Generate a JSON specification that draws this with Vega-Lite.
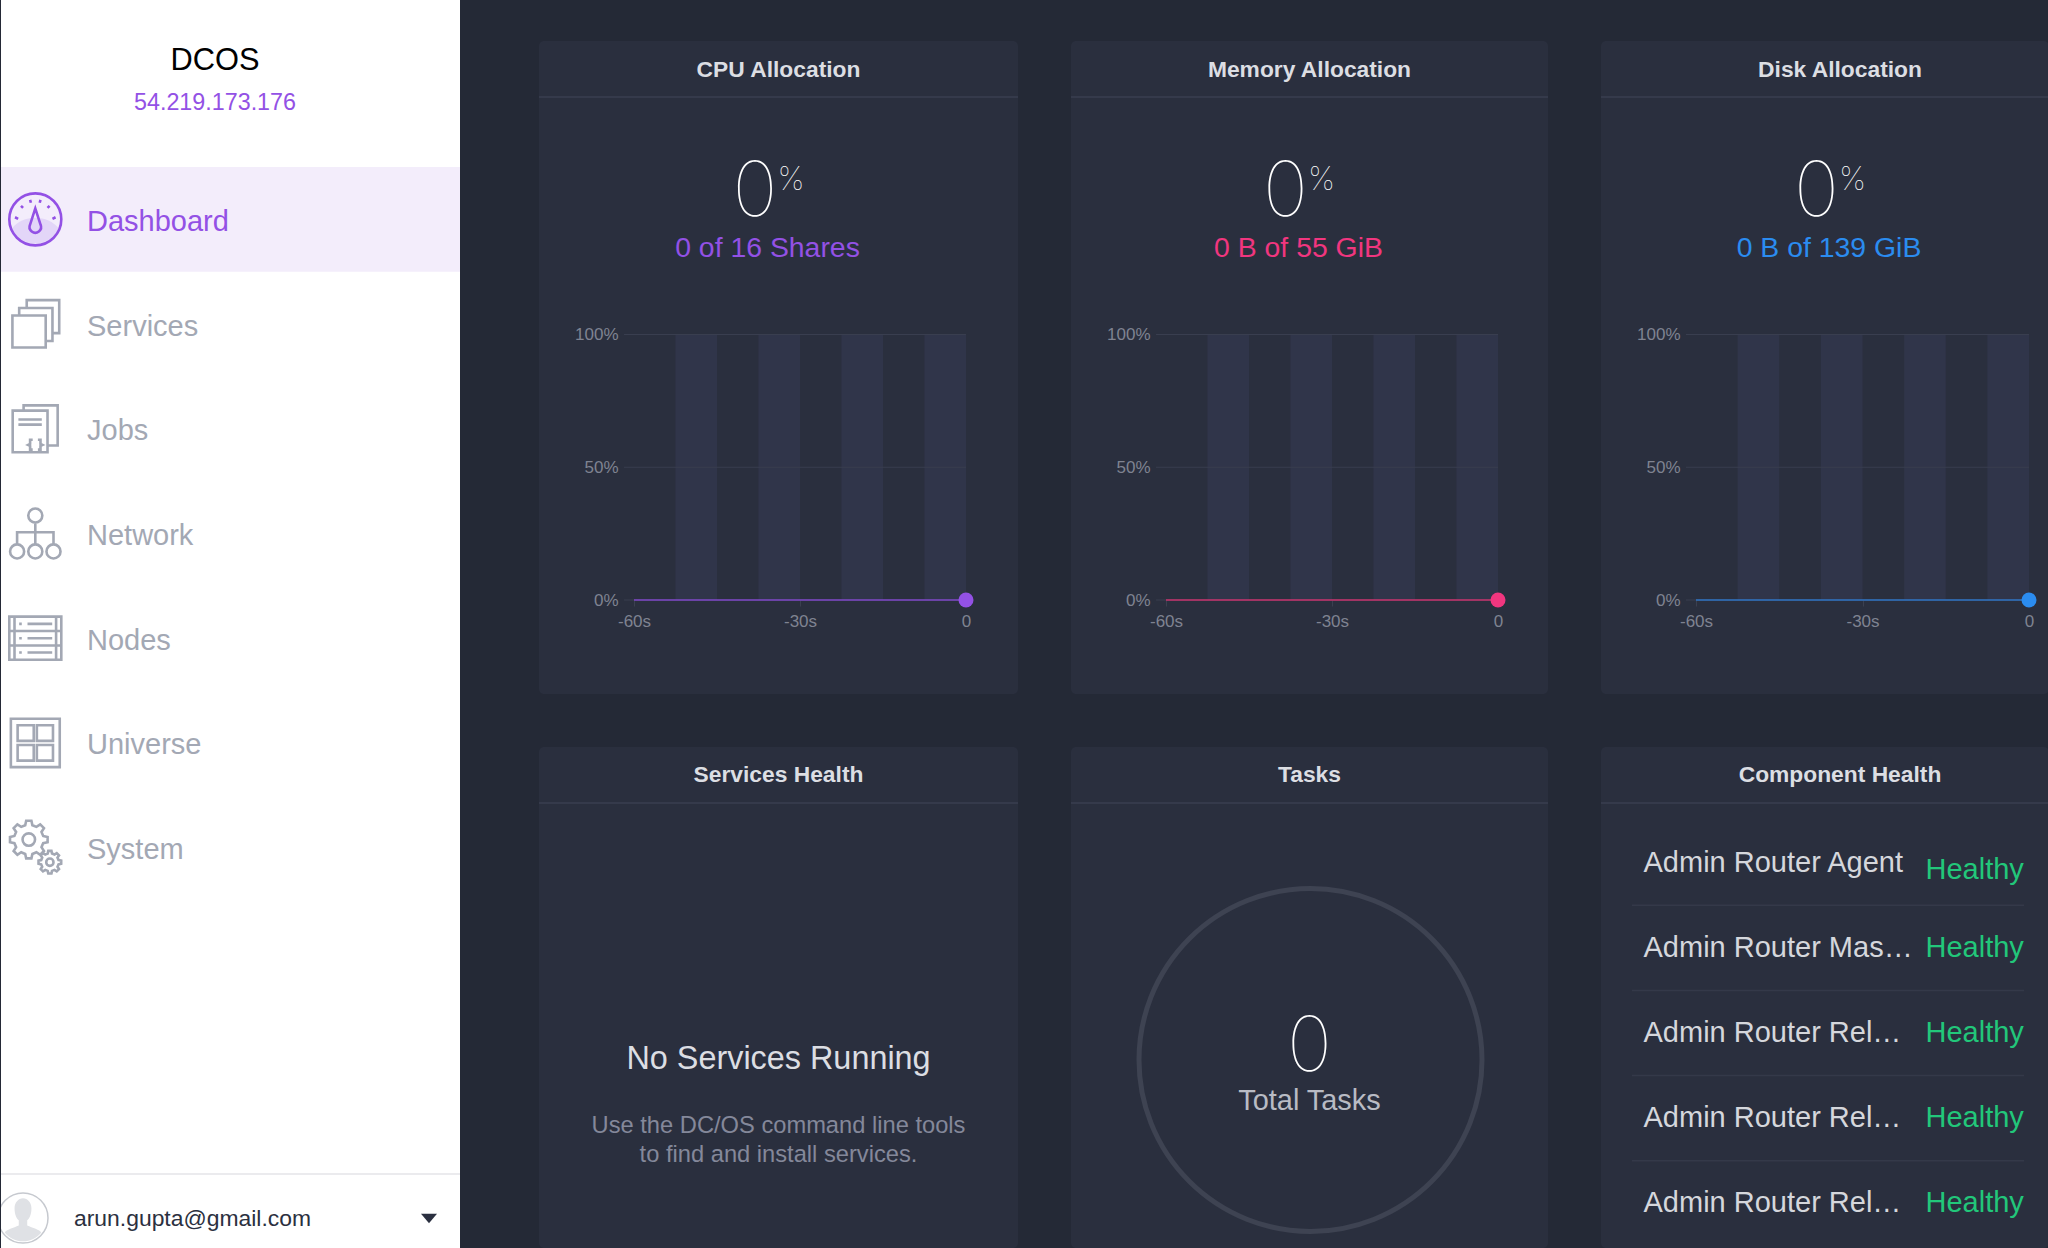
{
  "$schema": "https://vega.github.io/schema/vega-lite/v6.json",
  "background": "#242936",
  "padding": 0,
  "config": {"font": "Liberation Sans", "view": {"stroke": null}},
  "datasets": {
    "menu": [
      {"item": "Dashboard"}, {"item": "Services"}, {"item": "Jobs"}, {"item": "Network"},
      {"item": "Nodes"}, {"item": "Universe"}, {"item": "System"}
    ],
    "brand": [
      {"role": "name", "text": "DCOS"},
      {"role": "address", "text": "54.219.173.176"}
    ],
    "account": [{"role": "account", "text": "arun.gupta@gmail.com"}, {"role": "rule", "text": ""}],
    "usage": [
      {"metric": "cpu", "t": -60, "pct": 0}, {"metric": "cpu", "t": -45, "pct": 0}, {"metric": "cpu", "t": -30, "pct": 0}, {"metric": "cpu", "t": -15, "pct": 0}, {"metric": "cpu", "t": 0, "pct": 0},
      {"metric": "memory", "t": -60, "pct": 0}, {"metric": "memory", "t": -45, "pct": 0}, {"metric": "memory", "t": -30, "pct": 0}, {"metric": "memory", "t": -15, "pct": 0}, {"metric": "memory", "t": 0, "pct": 0},
      {"metric": "disk", "t": -60, "pct": 0}, {"metric": "disk", "t": -45, "pct": 0}, {"metric": "disk", "t": -30, "pct": 0}, {"metric": "disk", "t": -15, "pct": 0}, {"metric": "disk", "t": 0, "pct": 0}
    ],
    "stripes": [
      {"start": -52.5, "end": -45}, {"start": -37.5, "end": -30}, {"start": -22.5, "end": -15}, {"start": -7.5, "end": 0}
    ],
    "gridlines": [{"pct": 100}, {"pct": 50}, {"pct": 0}],
    "cards": [
      {"card": "cpu", "role": "header", "text": "CPU Allocation"},
      {"card": "cpu", "role": "rule", "text": ""},
      {"card": "cpu", "role": "value", "text": "0"},
      {"card": "cpu", "role": "percent", "text": "%"},
      {"card": "cpu", "role": "detail", "text": "0 of 16 Shares"},
      {"card": "memory", "role": "header", "text": "Memory Allocation"},
      {"card": "memory", "role": "rule", "text": ""},
      {"card": "memory", "role": "value", "text": "0"},
      {"card": "memory", "role": "percent", "text": "%"},
      {"card": "memory", "role": "detail", "text": "0 B of 55 GiB"},
      {"card": "disk", "role": "header", "text": "Disk Allocation"},
      {"card": "disk", "role": "rule", "text": ""},
      {"card": "disk", "role": "value", "text": "0"},
      {"card": "disk", "role": "percent", "text": "%"},
      {"card": "disk", "role": "detail", "text": "0 B of 139 GiB"},
      {"card": "services", "role": "header", "text": "Services Health"},
      {"card": "services", "role": "rule", "text": ""},
      {"card": "services", "role": "headline", "text": "No Services Running"},
      {"card": "services", "role": "line1", "text": "Use the DC/OS command line tools"},
      {"card": "services", "role": "line2", "text": "to find and install services."},
      {"card": "tasks", "role": "header", "text": "Tasks"},
      {"card": "tasks", "role": "rule", "text": ""},
      {"card": "tasks", "role": "ring", "text": ""},
      {"card": "tasks", "role": "value", "text": "0"},
      {"card": "tasks", "role": "label", "text": "Total Tasks"},
      {"card": "components", "role": "header", "text": "Component Health"},
      {"card": "components", "role": "rule", "text": ""}
    ],
    "components": [
      {"id": "agent", "name": "Admin Router Agent", "status": "Healthy"},
      {"id": "master", "name": "Admin Router Mas…", "status": "Healthy"},
      {"id": "reloader", "name": "Admin Router Rel…", "status": "Healthy"},
      {"id": "reloader-timer", "name": "Admin Router Rel…", "status": "Healthy"},
      {"id": "relay", "name": "Admin Router Rel…", "status": "Healthy"}
    ]
  },
  "bounds": "flush",
  "spacing": 79,
  "hconcat": [
    {
      "width": 459,
      "height": 1248,
      "view": {"fill": "#ffffff"},
      "layer": [
        {
          "data": {"name": "menu"},
          "transform": [{"filter": "datum.item === 'Dashboard'"}],
          "mark": {"type": "rect", "color": "#f3edfb"},
          "encoding": {
            "y": {"field": "item", "type": "nominal", "sort": null, "axis": null, "scale": {"type": "band", "paddingInner": 0, "paddingOuter": 0, "domain": ["Dashboard", "Services", "Jobs", "Network", "Nodes", "Universe", "System"], "range": [167, 900]}}
          }
        },
        {
          "data": {"name": "menu"},
          "encoding": {
            "x": {"datum": "icon", "type": "nominal", "axis": null, "scale": {"type": "point", "padding": 0, "domain": ["icon", "label"], "range": [34.3, 86]}},
            "y": {"field": "item", "type": "nominal", "sort": null, "axis": null, "scale": {"type": "band", "paddingInner": 0, "paddingOuter": 0, "domain": ["Dashboard", "Services", "Jobs", "Network", "Nodes", "Universe", "System"], "range": [167, 900]}}
          },
          "layer": [
            {
              "transform": [{"filter": "datum.item === 'Dashboard'"}],
              "mark": {"type": "point", "filled": true, "size": 2704, "color": "#e3d6f8", "opacity": 1, "shape": "M-.9,.36C-.5,-.2 .5,-.2 .9,.36A1,1 0 0 1 -.9,.36Z"}
            },
            {
              "transform": [{"filter": "datum.item === 'Dashboard'"}],
              "mark": {"type": "point", "filled": false, "size": 2704, "strokeWidth": 2.6, "opacity": 1, "color": "#9351e5", "shape": "M-1,0A1,1 0 1,1 1,0A1,1 0 1,1 -1,0ZM0,-.42L-.2,.2A.22,.22 0 1,0 .2,.2ZM-.66,-.02L-.78,-.08M-.47,-.44L-.55,-.52M-.17,-.64L-.2,-.75M.17,-.64L.2,-.75M.47,-.44L.55,-.52M.66,-.02L.78,-.08"}
            },
            {
              "transform": [{"filter": "datum.item === 'Services'"}],
              "mark": {"type": "point", "filled": false, "size": 2704, "strokeWidth": 2.6, "opacity": 1, "color": "#a3a8b4", "shape": "M-.88,-.33L.4,-.33L.4,.9L-.88,.9ZM-.62,-.33L-.62,-.62L.66,-.62L.66,.65L.4,.65M-.33,-.62L-.33,-.92L.92,-.92L.92,.35L.66,.35"}
            },
            {
              "transform": [{"filter": "datum.item === 'Jobs'"}],
              "mark": {"type": "point", "filled": false, "size": 2704, "strokeWidth": 2.6, "opacity": 1, "color": "#a3a8b4", "shape": "M-.87,-.7L.47,-.7L.47,.9L-.87,.9ZM-.45,-.7L-.45,-.9L.86,-.9L.86,.64L.47,.64M-.65,-.36L.25,-.36M-.65,-.16L.25,-.16M-.1,.42L-.2,.42L-.2,.58L-.28,.62L-.2,.66L-.2,.8L-.1,.8M.1,.42L.2,.42L.2,.58L.28,.62L.2,.66L.2,.8L.1,.8"}
            },
            {
              "transform": [{"filter": "datum.item === 'Network'"}],
              "mark": {"type": "point", "filled": false, "size": 2704, "strokeWidth": 2.6, "opacity": 1, "color": "#a3a8b4", "shape": "M.27,-.69A.27,.27 0 1,1 -.27,-.69A.27,.27 0 1,1 .27,-.69ZM0,-.42L0,.42M-.7,.42L-.7,-.05L.7,-.05L.7,.42M-.43,.69A.27,.27 0 1,1 -.97,.69A.27,.27 0 1,1 -.43,.69ZM.27,.69A.27,.27 0 1,1 -.27,.69A.27,.27 0 1,1 .27,.69ZM.97,.69A.27,.27 0 1,1 .43,.69A.27,.27 0 1,1 .97,.69Z"}
            },
            {
              "transform": [{"filter": "datum.item === 'Nodes'"}],
              "mark": {"type": "point", "filled": false, "size": 2704, "strokeWidth": 2.6, "opacity": 1, "color": "#a3a8b4", "shape": "M-1,-.83L1,-.83L1,.83L-1,.83ZM-1,-.28L1,-.28M-1,.28L1,.28M-.8,-.83L-.8,.83M.8,-.83L.8,.83M-.62,-.55L-.52,-.55M-.62,0L-.52,0M-.62,.55L-.52,.55M-.3,-.55L.65,-.55M-.3,0L.65,0M-.3,.55L.65,.55"}
            },
            {
              "transform": [{"filter": "datum.item === 'Universe'"}],
              "mark": {"type": "point", "filled": false, "size": 2704, "strokeWidth": 2.6, "opacity": 1, "color": "#a3a8b4", "shape": "M-.94,-.93L.94,-.93L.94,.93L-.94,.93ZM-.68,-.68L-.06,-.68L-.06,-.08L-.68,-.08ZM.06,-.68L.68,-.68L.68,-.08L.06,-.08ZM-.68,.08L-.06,.08L-.06,.68L-.68,.68ZM.06,.08L.68,.08L.68,.68L.06,.68Z"}
            },
            {
              "transform": [{"filter": "datum.item === 'System'"}],
              "mark": {"type": "point", "filled": false, "size": 2704, "strokeWidth": 2.6, "opacity": 1, "color": "#a3a8b4", "shape": "M.303,-.448L.473,-.411L.473,-.209L.303,-.172L.238,-.017L.333,.129L.189,.273L.043,.178L-.112,.243L-.149,.413L-.351,.413L-.388,.243L-.543,.178L-.689,.273L-.833,.129L-.738,-.017L-.803,-.172L-.973,-.209L-.973,-.411L-.803,-.448L-.738,-.603L-.833,-.749L-.689,-.893L-.543,-.798L-.388,-.863L-.351,-1.033L-.149,-1.033L-.112,-.863L.043,-.798L.189,-.893L.333,-.749L.238,-.603ZM-.01,-.31A.24,.24 0 1,1 -.49,-.31A.24,.24 0 1,1 -.01,-.31ZM.893,.477L.996,.499L.996,.621L.893,.643L.854,.737L.912,.825L.825,.912L.737,.854L.643,.893L.621,.996L.499,.996L.477,.893L.383,.854L.295,.912L.208,.825L.266,.737L.227,.643L.124,.621L.124,.499L.227,.477L.266,.383L.208,.295L.295,.208L.383,.266L.477,.227L.499,.124L.621,.124L.643,.227L.737,.266L.825,.208L.912,.295L.854,.383ZM.7,.56A.14,.14 0 1,1 .42,.56A.14,.14 0 1,1 .7,.56Z"}
            }
          ]
        },
        {
          "data": {"name": "menu"},
          "mark": {"type": "text", "align": "left", "fontSize": 29, "dy": 2.5},
          "encoding": {
            "x": {"datum": "label", "type": "nominal", "axis": null, "scale": {"type": "point", "padding": 0, "domain": ["icon", "label"], "range": [34.3, 86]}},
            "y": {"field": "item", "type": "nominal", "sort": null, "axis": null, "scale": {"type": "band", "paddingInner": 0, "paddingOuter": 0, "domain": ["Dashboard", "Services", "Jobs", "Network", "Nodes", "Universe", "System"], "range": [167, 900]}},
            "text": {"field": "item"},
            "color": {"condition": {"test": "datum.item === 'Dashboard'", "value": "#9351e5"}, "value": "#a3a8b4"}
          }
        },
        {
          "data": {"name": "brand"},
          "mark": {"type": "text", "fontSize": 30.8, "dx": -15.5},
          "transform": [{"filter": "datum.role === 'name'"}],
          "encoding": {
            "y": {"field": "role", "type": "nominal", "axis": null, "scale": {"type": "point", "padding": 0, "domain": ["name", "address"], "range": [60.5, 103]}},
            "text": {"field": "text"},
            "color": {"value": "#000000"}
          }
        },
        {
          "data": {"name": "brand"},
          "mark": {"type": "text", "fontSize": 23.3, "dx": -15.5},
          "transform": [{"filter": "datum.role === 'address'"}],
          "encoding": {
            "y": {"field": "role", "type": "nominal", "axis": null, "scale": {"type": "point", "padding": 0, "domain": ["name", "address"], "range": [60.5, 103]}},
            "text": {"field": "text"},
            "color": {"value": "#9351e5"}
          }
        },
        {
          "data": {"name": "account"},
          "transform": [{"filter": "datum.role === 'rule'"}],
          "mark": {"type": "rule", "color": "#e4e5e8", "strokeWidth": 1.5},
          "encoding": {
            "y": {"field": "role", "type": "nominal", "axis": null, "scale": {"type": "point", "padding": 0, "domain": ["rule", "account"], "range": [1174, 1218.5]}}
          }
        },
        {
          "data": {"name": "account"},
          "transform": [{"filter": "datum.role === 'account'"}],
          "mark": {"type": "text", "align": "left", "fontSize": 22.9, "color": "#2b3040"},
          "encoding": {
            "x": {"datum": "email", "type": "nominal", "axis": null, "scale": {"type": "point", "padding": 0, "domain": ["email", "caret"], "range": [73, 428]}},
            "y": {"field": "role", "type": "nominal", "axis": null, "scale": {"type": "point", "padding": 0, "domain": ["rule", "account"], "range": [1174, 1218.5]}},
            "text": {"field": "text"}
          }
        },
        {
          "data": {"name": "account"},
          "transform": [{"filter": "datum.role === 'account'"}],
          "mark": {"type": "point", "filled": true, "opacity": 1, "color": "#2b3040", "size": 256, "shape": "M-1,-.6L1,-.6L0,.6Z"},
          "encoding": {
            "x": {"datum": "caret", "type": "nominal", "axis": null, "scale": {"type": "point", "padding": 0, "domain": ["email", "caret"], "range": [73, 428]}},
            "y": {"field": "role", "type": "nominal", "axis": null, "scale": {"type": "point", "padding": 0, "domain": ["rule", "account"], "range": [1174, 1218.5]}}
          }
        },
        {
          "data": {"name": "account"},
          "transform": [{"filter": "datum.role === 'account'"}],
          "mark": {"type": "point", "filled": true, "opacity": 1, "clip": true, "color": "#dfe1e5", "size": 2200, "shape": "M-.36,-.42A.36,.42 0 1,1 .36,-.42C.36,-.15 .28,0 .18,.1L.18,.32C.4,.42 .72,.5 .78,.62A1,1 0 0 1 -.78,.62C-.72,.5 -.4,.42 -.18,.32L-.18,.1C-.28,0 -.36,-.15 -.36,-.42Z"},
          "encoding": {
            "x": {"datum": "avatar", "type": "nominal", "axis": null, "scale": {"type": "point", "padding": 0, "domain": ["avatar", "end"], "range": [22, 459]}},
            "y": {"field": "role", "type": "nominal", "axis": null, "scale": {"type": "point", "padding": 0, "domain": ["account", "end"], "range": [1218, 1248]}}
          }
        },
        {
          "data": {"name": "account"},
          "transform": [{"filter": "datum.role === 'account'"}],
          "mark": {"type": "point", "filled": false, "opacity": 1, "clip": true, "color": "#c6c9cf", "strokeWidth": 1.5, "size": 2500, "shape": "circle"},
          "encoding": {
            "x": {"datum": "avatar", "type": "nominal", "axis": null, "scale": {"type": "point", "padding": 0, "domain": ["avatar", "end"], "range": [22, 459]}},
            "y": {"field": "role", "type": "nominal", "axis": null, "scale": {"type": "point", "padding": 0, "domain": ["account", "end"], "range": [1218, 1248]}}
          }
        }
      ],
      "resolve": {"scale": {"x": "independent", "y": "independent"}}
    },
    {
      "bounds": "flush",
      "spacing": 40,
      "vconcat": [
        {
          "width": 1,
          "height": 1,
          "data": {"values": [{"gap": "top"}]},
          "mark": {"type": "rule", "opacity": 0},
          "encoding": {"y": {"field": "gap", "type": "nominal", "axis": null}}
        },
        {
          "bounds": "full",
          "spacing": 53,
          "vconcat": [
            {
              "bounds": "flush",
              "spacing": 53,
              "hconcat": [
                {
                  "width": 479,
                  "height": 653,
                  "view": {"fill": "#2a2f3e", "cornerRadius": 5},
                  "layer": [
                    {
                      "layer": [
                        {
                          "data": {"name": "stripes"},
                          "mark": {"type": "rect", "color": "#30354a"},
                          "encoding": {
                            "x": {"field": "start", "type": "quantitative", "scale": {"domain": [-60, 0], "range": [95, 427], "nice": false}, "axis": {"title": null, "grid": false, "domain": false, "values": [-60, -30, 0], "offset": -94, "tickColor": "#3b4050", "tickSize": 6, "labelPadding": 7, "labelFlush": false, "labelColor": "#7f8391", "labelFontSize": 17, "labelExpr": "datum.value === 0 ? '0' : datum.value + 's'"}},
                            "x2": {"field": "end"},
                            "y": {"datum": 0, "type": "quantitative", "scale": {"domain": [0, 100], "range": [559, 293.5], "nice": false}, "axis": {"title": null, "grid": false, "domain": false, "ticks": false, "values": [0, 50, 100], "offset": -95, "labelPadding": 16, "labelFlush": false, "labelColor": "#7f8391", "labelFontSize": 17, "labelExpr": "datum.value + '%'"}},
                            "y2": {"datum": 100}
                          }
                        },
                        {
                          "data": {"name": "gridlines"},
                          "mark": {"type": "rule", "color": "#393e4f"},
                          "encoding": {"x": {"datum": -61.8}, "x2": {"datum": 0}, "y": {"field": "pct", "type": "quantitative"}}
                        },
                        {
                          "data": {"name": "usage"},
                          "transform": [{"filter": "datum.metric === 'cpu'"}],
                          "mark": {"type": "line", "color": "#7f48c9", "strokeWidth": 1.5},
                          "encoding": {"x": {"field": "t", "type": "quantitative"}, "y": {"field": "pct", "type": "quantitative"}}
                        },
                        {
                          "data": {"name": "usage"},
                          "transform": [{"filter": "datum.metric === 'cpu' && datum.t === 0"}],
                          "mark": {"type": "point", "filled": true, "opacity": 1, "color": "#9351e5", "size": 225},
                          "encoding": {"x": {"field": "t", "type": "quantitative"}, "y": {"field": "pct", "type": "quantitative"}}
                        }
                      ]
                    },
                    {
                      "data": {"name": "cards"},
                      "transform": [{"filter": "datum.card === 'cpu' && datum.role === 'rule'"}],
                      "mark": {"type": "rule", "color": "#3a3f50", "strokeWidth": 1.5},
                      "encoding": {"y": {"field": "role", "type": "nominal", "axis": null, "scale": {"type": "point", "padding": 0, "domain": ["header", "rule"], "range": [28.5, 56]}}}
                    },
                    {
                      "data": {"name": "cards"},
                      "transform": [{"filter": "datum.card === 'cpu' && datum.role === 'header'"}],
                      "mark": {"type": "text", "fontSize": 22.8, "fontWeight": "bold", "color": "#dcdee3"},
                      "encoding": {"y": {"field": "role", "type": "nominal", "axis": null, "scale": {"type": "point", "padding": 0, "domain": ["header", "rule"], "range": [28.5, 56]}}, "text": {"field": "text"}}
                    },
                    {
                      "data": {"name": "cards"},
                      "transform": [{"filter": "datum.card === 'cpu' && datum.role === 'value'"}],
                      "mark": {"type": "text", "font": "Inter", "fontWeight": 100, "fontSize": 76, "dx": -23.5, "color": "#ffffff"},
                      "encoding": {"y": {"field": "role", "type": "nominal", "axis": null, "scale": {"type": "point", "padding": 0, "domain": ["value", "detail"], "range": [152, 207]}}, "text": {"field": "text"}}
                    },
                    {
                      "data": {"name": "cards"},
                      "transform": [{"filter": "datum.card === 'cpu' && datum.role === 'percent'"}],
                      "mark": {"type": "text", "font": "Inter", "fontWeight": 100, "fontSize": 32, "dx": 12.5, "color": "#ffffff"},
                      "encoding": {"y": {"field": "role", "type": "nominal", "axis": null, "scale": {"type": "point", "padding": 0, "domain": ["percent", "detail"], "range": [139, 207]}}, "text": {"field": "text"}}
                    },
                    {
                      "data": {"name": "cards"},
                      "transform": [{"filter": "datum.card === 'cpu' && datum.role === 'detail'"}],
                      "mark": {"type": "text", "fontSize": 28.4, "dx": -11, "color": "#9351e5"},
                      "encoding": {"y": {"field": "role", "type": "nominal", "axis": null, "scale": {"type": "point", "padding": 0, "domain": ["value", "detail"], "range": [152, 207]}}, "text": {"field": "text"}}
                    }
                  ],
                  "resolve": {"scale": {"x": "independent", "y": "independent"}}
                },
                {
                  "width": 477,
                  "height": 653,
                  "view": {"fill": "#2a2f3e", "cornerRadius": 5},
                  "layer": [
                    {
                      "layer": [
                        {
                          "data": {"name": "stripes"},
                          "mark": {"type": "rect", "color": "#30354a"},
                          "encoding": {
                            "x": {"field": "start", "type": "quantitative", "scale": {"domain": [-60, 0], "range": [95, 427], "nice": false}, "axis": {"title": null, "grid": false, "domain": false, "values": [-60, -30, 0], "offset": -94, "tickColor": "#3b4050", "tickSize": 6, "labelPadding": 7, "labelFlush": false, "labelColor": "#7f8391", "labelFontSize": 17, "labelExpr": "datum.value === 0 ? '0' : datum.value + 's'"}},
                            "x2": {"field": "end"},
                            "y": {"datum": 0, "type": "quantitative", "scale": {"domain": [0, 100], "range": [559, 293.5], "nice": false}, "axis": {"title": null, "grid": false, "domain": false, "ticks": false, "values": [0, 50, 100], "offset": -95, "labelPadding": 16, "labelFlush": false, "labelColor": "#7f8391", "labelFontSize": 17, "labelExpr": "datum.value + '%'"}},
                            "y2": {"datum": 100}
                          }
                        },
                        {
                          "data": {"name": "gridlines"},
                          "mark": {"type": "rule", "color": "#393e4f"},
                          "encoding": {"x": {"datum": -61.8}, "x2": {"datum": 0}, "y": {"field": "pct", "type": "quantitative"}}
                        },
                        {
                          "data": {"name": "usage"},
                          "transform": [{"filter": "datum.metric === 'memory'"}],
                          "mark": {"type": "line", "color": "#c9346f", "strokeWidth": 1.5},
                          "encoding": {"x": {"field": "t", "type": "quantitative"}, "y": {"field": "pct", "type": "quantitative"}}
                        },
                        {
                          "data": {"name": "usage"},
                          "transform": [{"filter": "datum.metric === 'memory' && datum.t === 0"}],
                          "mark": {"type": "point", "filled": true, "opacity": 1, "color": "#f1367f", "size": 225},
                          "encoding": {"x": {"field": "t", "type": "quantitative"}, "y": {"field": "pct", "type": "quantitative"}}
                        }
                      ]
                    },
                    {
                      "data": {"name": "cards"},
                      "transform": [{"filter": "datum.card === 'memory' && datum.role === 'rule'"}],
                      "mark": {"type": "rule", "color": "#3a3f50", "strokeWidth": 1.5},
                      "encoding": {"y": {"field": "role", "type": "nominal", "axis": null, "scale": {"type": "point", "padding": 0, "domain": ["header", "rule"], "range": [28.5, 56]}}}
                    },
                    {
                      "data": {"name": "cards"},
                      "transform": [{"filter": "datum.card === 'memory' && datum.role === 'header'"}],
                      "mark": {"type": "text", "fontSize": 22.8, "fontWeight": "bold", "color": "#dcdee3"},
                      "encoding": {"y": {"field": "role", "type": "nominal", "axis": null, "scale": {"type": "point", "padding": 0, "domain": ["header", "rule"], "range": [28.5, 56]}}, "text": {"field": "text"}}
                    },
                    {
                      "data": {"name": "cards"},
                      "transform": [{"filter": "datum.card === 'memory' && datum.role === 'value'"}],
                      "mark": {"type": "text", "font": "Inter", "fontWeight": 100, "fontSize": 76, "dx": -24, "color": "#ffffff"},
                      "encoding": {"y": {"field": "role", "type": "nominal", "axis": null, "scale": {"type": "point", "padding": 0, "domain": ["value", "detail"], "range": [152, 207]}}, "text": {"field": "text"}}
                    },
                    {
                      "data": {"name": "cards"},
                      "transform": [{"filter": "datum.card === 'memory' && datum.role === 'percent'"}],
                      "mark": {"type": "text", "font": "Inter", "fontWeight": 100, "fontSize": 32, "dx": 12, "color": "#ffffff"},
                      "encoding": {"y": {"field": "role", "type": "nominal", "axis": null, "scale": {"type": "point", "padding": 0, "domain": ["percent", "detail"], "range": [139, 207]}}, "text": {"field": "text"}}
                    },
                    {
                      "data": {"name": "cards"},
                      "transform": [{"filter": "datum.card === 'memory' && datum.role === 'detail'"}],
                      "mark": {"type": "text", "fontSize": 28.4, "dx": -11, "color": "#f1367f"},
                      "encoding": {"y": {"field": "role", "type": "nominal", "axis": null, "scale": {"type": "point", "padding": 0, "domain": ["value", "detail"], "range": [152, 207]}}, "text": {"field": "text"}}
                    }
                  ],
                  "resolve": {"scale": {"x": "independent", "y": "independent"}}
                },
                {
                  "width": 448,
                  "height": 653,
                  "view": {"fill": "#2a2f3e", "cornerRadius": 5},
                  "layer": [
                    {
                      "layer": [
                        {
                          "data": {"name": "stripes"},
                          "mark": {"type": "rect", "color": "#30354a"},
                          "encoding": {
                            "x": {"field": "start", "type": "quantitative", "scale": {"domain": [-60, 0], "range": [95, 428], "nice": false}, "axis": {"title": null, "grid": false, "domain": false, "values": [-60, -30, 0], "offset": -94, "tickColor": "#3b4050", "tickSize": 6, "labelPadding": 7, "labelFlush": false, "labelColor": "#7f8391", "labelFontSize": 17, "labelExpr": "datum.value === 0 ? '0' : datum.value + 's'"}},
                            "x2": {"field": "end"},
                            "y": {"datum": 0, "type": "quantitative", "scale": {"domain": [0, 100], "range": [559, 293.5], "nice": false}, "axis": {"title": null, "grid": false, "domain": false, "ticks": false, "values": [0, 50, 100], "offset": -95, "labelPadding": 16, "labelFlush": false, "labelColor": "#7f8391", "labelFontSize": 17, "labelExpr": "datum.value + '%'"}},
                            "y2": {"datum": 100}
                          }
                        },
                        {
                          "data": {"name": "gridlines"},
                          "mark": {"type": "rule", "color": "#393e4f"},
                          "encoding": {"x": {"datum": -61.8}, "x2": {"datum": 0}, "y": {"field": "pct", "type": "quantitative"}}
                        },
                        {
                          "data": {"name": "usage"},
                          "transform": [{"filter": "datum.metric === 'disk'"}],
                          "mark": {"type": "line", "color": "#2f74c4", "strokeWidth": 1.5},
                          "encoding": {"x": {"field": "t", "type": "quantitative"}, "y": {"field": "pct", "type": "quantitative"}}
                        },
                        {
                          "data": {"name": "usage"},
                          "transform": [{"filter": "datum.metric === 'disk' && datum.t === 0"}],
                          "mark": {"type": "point", "filled": true, "opacity": 1, "color": "#2b8cf0", "size": 225},
                          "encoding": {"x": {"field": "t", "type": "quantitative"}, "y": {"field": "pct", "type": "quantitative"}}
                        }
                      ]
                    },
                    {
                      "data": {"name": "cards"},
                      "transform": [{"filter": "datum.card === 'disk' && datum.role === 'rule'"}],
                      "mark": {"type": "rule", "color": "#3a3f50", "strokeWidth": 1.5},
                      "encoding": {"y": {"field": "role", "type": "nominal", "axis": null, "scale": {"type": "point", "padding": 0, "domain": ["header", "rule"], "range": [28.5, 56]}}}
                    },
                    {
                      "data": {"name": "cards"},
                      "transform": [{"filter": "datum.card === 'disk' && datum.role === 'header'"}],
                      "mark": {"type": "text", "fontSize": 22.8, "fontWeight": "bold", "dx": 15, "color": "#dcdee3"},
                      "encoding": {"y": {"field": "role", "type": "nominal", "axis": null, "scale": {"type": "point", "padding": 0, "domain": ["header", "rule"], "range": [28.5, 56]}}, "text": {"field": "text"}}
                    },
                    {
                      "data": {"name": "cards"},
                      "transform": [{"filter": "datum.card === 'disk' && datum.role === 'value'"}],
                      "mark": {"type": "text", "font": "Inter", "fontWeight": 100, "fontSize": 76, "dx": -8.5, "color": "#ffffff"},
                      "encoding": {"y": {"field": "role", "type": "nominal", "axis": null, "scale": {"type": "point", "padding": 0, "domain": ["value", "detail"], "range": [152, 207]}}, "text": {"field": "text"}}
                    },
                    {
                      "data": {"name": "cards"},
                      "transform": [{"filter": "datum.card === 'disk' && datum.role === 'percent'"}],
                      "mark": {"type": "text", "font": "Inter", "fontWeight": 100, "fontSize": 32, "dx": 27.5, "color": "#ffffff"},
                      "encoding": {"y": {"field": "role", "type": "nominal", "axis": null, "scale": {"type": "point", "padding": 0, "domain": ["percent", "detail"], "range": [139, 207]}}, "text": {"field": "text"}}
                    },
                    {
                      "data": {"name": "cards"},
                      "transform": [{"filter": "datum.card === 'disk' && datum.role === 'detail'"}],
                      "mark": {"type": "text", "fontSize": 28.4, "dx": 4, "color": "#2b8cf0"},
                      "encoding": {"y": {"field": "role", "type": "nominal", "axis": null, "scale": {"type": "point", "padding": 0, "domain": ["value", "detail"], "range": [152, 207]}}, "text": {"field": "text"}}
                    }
                  ],
                  "resolve": {"scale": {"x": "independent", "y": "independent"}}
                }
              ]
            },
            {
              "bounds": "flush",
              "spacing": 53,
              "hconcat": [
                {
                  "width": 479,
                  "height": 501,
                  "view": {"fill": "#2a2f3e", "cornerRadius": 5},
                  "data": {"name": "cards"},
                  "layer": [
                    {
                      "transform": [{"filter": "datum.card === 'services' && datum.role === 'rule'"}],
                      "mark": {"type": "rule", "color": "#3a3f50", "strokeWidth": 1.5},
                      "encoding": {"y": {"field": "role", "type": "nominal", "axis": null, "scale": {"type": "point", "padding": 0, "domain": ["header", "rule"], "range": [28, 56]}}}
                    },
                    {
                      "transform": [{"filter": "datum.card === 'services' && datum.role === 'header'"}],
                      "mark": {"type": "text", "fontSize": 22.8, "fontWeight": "bold", "color": "#dcdee3"},
                      "encoding": {"y": {"field": "role", "type": "nominal", "axis": null, "scale": {"type": "point", "padding": 0, "domain": ["header", "rule"], "range": [28, 56]}}, "text": {"field": "text"}}
                    },
                    {
                      "transform": [{"filter": "datum.card === 'services' && datum.role === 'headline'"}],
                      "mark": {"type": "text", "fontSize": 32.4, "color": "#dcdee3"},
                      "encoding": {"y": {"field": "role", "type": "nominal", "axis": null, "scale": {"type": "point", "padding": 0, "domain": ["headline", "line1"], "range": [311.5, 379]}}, "text": {"field": "text"}}
                    },
                    {
                      "transform": [{"filter": "datum.card === 'services' && (datum.role === 'line1' || datum.role === 'line2')"}],
                      "mark": {"type": "text", "fontSize": 23.7, "color": "#84889a"},
                      "encoding": {"y": {"field": "role", "type": "nominal", "axis": null, "scale": {"type": "point", "padding": 0, "domain": ["line1", "line2"], "range": [379, 407.5]}}, "text": {"field": "text"}}
                    }
                  ],
                  "resolve": {"scale": {"y": "independent"}}
                },
                {
                  "width": 477,
                  "height": 501,
                  "view": {"fill": "#2a2f3e", "cornerRadius": 5},
                  "data": {"name": "cards"},
                  "layer": [
                    {
                      "transform": [{"filter": "datum.card === 'tasks' && datum.role === 'rule'"}],
                      "mark": {"type": "rule", "color": "#3a3f50", "strokeWidth": 1.5},
                      "encoding": {"y": {"field": "role", "type": "nominal", "axis": null, "scale": {"type": "point", "padding": 0, "domain": ["header", "rule"], "range": [28, 56]}}}
                    },
                    {
                      "transform": [{"filter": "datum.card === 'tasks' && datum.role === 'header'"}],
                      "mark": {"type": "text", "fontSize": 22.8, "fontWeight": "bold", "color": "#dcdee3"},
                      "encoding": {"y": {"field": "role", "type": "nominal", "axis": null, "scale": {"type": "point", "padding": 0, "domain": ["header", "rule"], "range": [28, 56]}}, "text": {"field": "text"}}
                    },
                    {
                      "transform": [{"filter": "datum.card === 'tasks' && datum.role === 'ring'"}],
                      "mark": {"type": "point", "shape": "circle", "filled": false, "opacity": 1, "size": 117649, "strokeWidth": 5, "color": "#3e4352"},
                      "encoding": {
                        "x": {"datum": "ring", "type": "nominal", "axis": null, "scale": {"type": "point", "padding": 0, "domain": ["ring", "end"], "range": [239.5, 477]}},
                        "y": {"field": "role", "type": "nominal", "axis": null, "scale": {"type": "point", "padding": 0, "domain": ["ring", "end"], "range": [313, 501]}}
                      }
                    },
                    {
                      "transform": [{"filter": "datum.card === 'tasks' && datum.role === 'value'"}],
                      "mark": {"type": "text", "font": "Inter", "fontWeight": 100, "fontSize": 76, "color": "#ffffff"},
                      "encoding": {"y": {"field": "role", "type": "nominal", "axis": null, "scale": {"type": "point", "padding": 0, "domain": ["value", "label"], "range": [301, 354]}}, "text": {"field": "text"}}
                    },
                    {
                      "transform": [{"filter": "datum.card === 'tasks' && datum.role === 'label'"}],
                      "mark": {"type": "text", "fontSize": 28.9, "color": "#b8bbc4"},
                      "encoding": {"y": {"field": "role", "type": "nominal", "axis": null, "scale": {"type": "point", "padding": 0, "domain": ["value", "label"], "range": [301, 354]}}, "text": {"field": "text"}}
                    }
                  ],
                  "resolve": {"scale": {"x": "independent", "y": "independent"}}
                },
                {
                  "width": 448,
                  "height": 501,
                  "view": {"fill": "#2a2f3e", "cornerRadius": 5},
                  "layer": [
                    {
                      "data": {"name": "cards"},
                      "transform": [{"filter": "datum.card === 'components' && datum.role === 'rule'"}],
                      "mark": {"type": "rule", "color": "#3a3f50", "strokeWidth": 1.5},
                      "encoding": {"y": {"field": "role", "type": "nominal", "axis": null, "scale": {"type": "point", "padding": 0, "domain": ["header", "rule"], "range": [28, 56]}}}
                    },
                    {
                      "data": {"name": "cards"},
                      "transform": [{"filter": "datum.card === 'components' && datum.role === 'header'"}],
                      "mark": {"type": "text", "fontSize": 22.8, "fontWeight": "bold", "dx": 15, "color": "#dcdee3"},
                      "encoding": {"y": {"field": "role", "type": "nominal", "axis": null, "scale": {"type": "point", "padding": 0, "domain": ["header", "rule"], "range": [28, 56]}}, "text": {"field": "text"}}
                    },
                    {
                      "data": {"name": "components"},
                      "transform": [{"filter": "datum.id !== 'relay'"}],
                      "mark": {"type": "rule", "color": "#343949", "strokeWidth": 1.5},
                      "encoding": {
                        "x": {"datum": "start", "type": "nominal", "axis": null, "scale": {"type": "point", "padding": 0, "domain": ["start", "end"], "range": [31, 423]}},
                        "x2": {"datum": "end"},
                        "y": {"field": "id", "type": "nominal", "bandPosition": 1, "axis": null, "sort": null, "scale": {"type": "band", "paddingInner": 0, "paddingOuter": 0, "domain": ["agent", "master", "reloader", "reloader-timer", "relay"], "range": [73, 499]}}
                      }
                    },
                    {
                      "data": {"name": "components"},
                      "mark": {"type": "text", "align": "left", "fontSize": 29, "color": "#d5d7dc"},
                      "encoding": {
                        "x": {"datum": "name", "type": "nominal", "axis": null, "scale": {"type": "point", "padding": 0, "domain": ["name", "status"], "range": [42.5, 324.5]}},
                        "y": {"field": "id", "type": "nominal", "axis": null, "sort": null, "scale": {"type": "band", "paddingInner": 0, "paddingOuter": 0, "domain": ["agent", "master", "reloader", "reloader-timer", "relay"], "range": [73, 499]}},
                        "text": {"field": "name"}
                      }
                    },
                    {
                      "data": {"name": "components"},
                      "transform": [{"filter": "datum.id !== 'agent'"}],
                      "mark": {"type": "text", "align": "left", "fontSize": 29, "color": "#22c77a"},
                      "encoding": {
                        "x": {"datum": "status", "type": "nominal", "axis": null, "scale": {"type": "point", "padding": 0, "domain": ["name", "status"], "range": [42.5, 324.5]}},
                        "y": {"field": "id", "type": "nominal", "axis": null, "sort": null, "scale": {"type": "band", "paddingInner": 0, "paddingOuter": 0, "domain": ["agent", "master", "reloader", "reloader-timer", "relay"], "range": [73, 499]}},
                        "text": {"field": "status"}
                      }
                    },
                    {
                      "data": {"name": "components"},
                      "transform": [{"filter": "datum.id === 'agent'"}],
                      "mark": {"type": "text", "align": "left", "fontSize": 29, "dy": 7, "color": "#22c77a"},
                      "encoding": {
                        "x": {"datum": "status", "type": "nominal", "axis": null, "scale": {"type": "point", "padding": 0, "domain": ["name", "status"], "range": [42.5, 324.5]}},
                        "y": {"field": "id", "type": "nominal", "axis": null, "sort": null, "scale": {"type": "band", "paddingInner": 0, "paddingOuter": 0, "domain": ["agent", "master", "reloader", "reloader-timer", "relay"], "range": [73, 499]}},
                        "text": {"field": "status"}
                      }
                    }
                  ],
                  "resolve": {"scale": {"x": "independent", "y": "independent"}}
                }
              ]
            }
          ]
        }
      ]
    }
  ]
}
